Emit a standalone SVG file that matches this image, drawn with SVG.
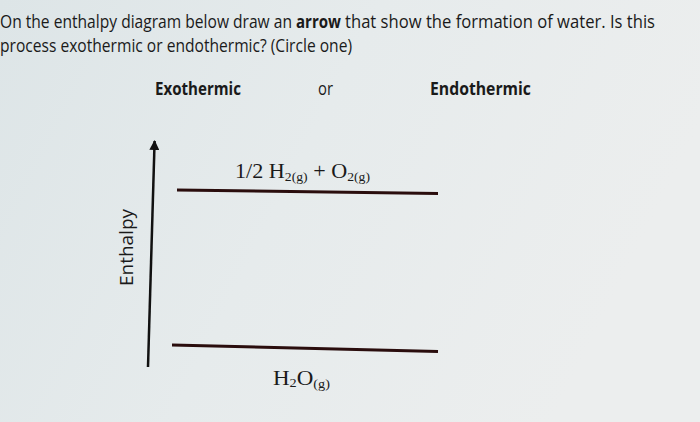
<svg xmlns="http://www.w3.org/2000/svg" width="700" height="422" viewBox="0 0 700 422">
<defs>
<linearGradient id="bg" x1="0" y1="0" x2="1" y2="0.3">
<stop offset="0" stop-color="#dde5e7"/>
<stop offset="0.5" stop-color="#e6ebec"/>
<stop offset="1" stop-color="#eceeee"/>
</linearGradient>
<marker id="ah" viewBox="0 0 10 10" refX="9" refY="5" markerWidth="4" markerHeight="4" orient="auto" markerUnits="strokeWidth">
<path d="M0,0 L10,5 L0,10 z" fill="#111"/>
</marker>
<style>
.q{font-family:"Open Sans","Liberation Sans",sans-serif;font-size:17.5px;fill:#1a1a1a}
.b{font-family:"Open Sans","Liberation Sans",sans-serif;font-size:17px;font-weight:bold;fill:#1a1a1a}
.s{font-family:"Liberation Serif","Times New Roman",serif;font-size:21px;fill:#1a1a1a}
.sub{font-size:13px}
.lvl{stroke:#2a0d0d;stroke-width:3;fill:none}
</style>
</defs>
<rect width="700" height="422" fill="url(#bg)"/>
<g id="question" transform="scale(0.86 1)">
<text class="q" x="0" y="28" textLength="339.5" lengthAdjust="spacingAndGlyphs">On the enthalpy diagram below draw an</text>
<text class="b" font-size="17.5" x="344.2" y="28" textLength="52.3" lengthAdjust="spacingAndGlyphs">arrow</text>
<text class="q" x="401.2" y="28" textLength="360.5" lengthAdjust="spacingAndGlyphs">that show the formation of water. Is this</text>
<text class="q" x="0" y="52" textLength="409.3" lengthAdjust="spacingAndGlyphs">process exothermic or endothermic? (Circle one)</text>
</g>
<g id="choices" transform="scale(0.86 1)">
<text class="b" x="180.2" y="95" textLength="100" lengthAdjust="spacingAndGlyphs">Exothermic</text>
<text class="q" x="369.8" y="95" textLength="17.4" lengthAdjust="spacingAndGlyphs">or</text>
<text class="b" x="500" y="95" textLength="117.4" lengthAdjust="spacingAndGlyphs">Endothermic</text>
</g>
<g id="connectors">
<line x1="148" y1="367" x2="154.6" y2="141" stroke="#111" stroke-width="2.5" marker-end="url(#ah)"/>
</g>
<g id="axis-label">
<text class="q" font-size="19" transform="translate(133,286) rotate(-90)" textLength="77" lengthAdjust="spacingAndGlyphs">Enthalpy</text>
</g>
<g id="reactants">
<line class="lvl" x1="177" y1="190" x2="438" y2="193.5"/>
<text class="s" x="235" y="178" textLength="135" lengthAdjust="spacingAndGlyphs">1/2 H<tspan class="sub" dy="3">2(g)</tspan><tspan dy="-3"> + O</tspan><tspan class="sub" dy="3">2(g)</tspan></text>
</g>
<g id="product">
<line class="lvl" x1="172" y1="345" x2="438" y2="351.5"/>
<text class="s" x="273" y="385" textLength="57" lengthAdjust="spacingAndGlyphs">H<tspan class="sub" dy="2">2</tspan><tspan dy="-2">O</tspan><tspan class="sub" dy="3">(g)</tspan></text>
</g>
</svg>
